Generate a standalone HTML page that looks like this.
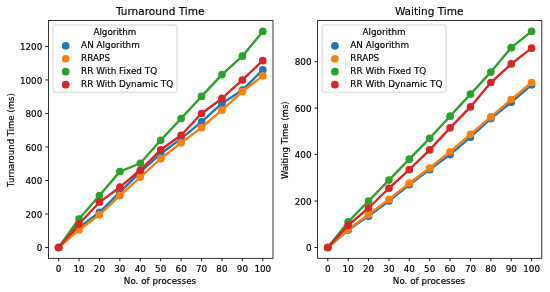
<!DOCTYPE html>
<html><head><meta charset="utf-8"><title>Turnaround and Waiting Time</title>
<style>html,body{margin:0;padding:0;background:#fff}svg{display:block}</style></head>
<body>
<svg width="550" height="292" viewBox="0 0 550 292" font-family="'DejaVu Sans', 'Liberation Sans', sans-serif" fill="#000" stroke="#000" stroke-width="0.17">
<rect width="550" height="292" fill="#fff" stroke="none"/>
<polyline points="58.61,247.50 79.03,227.39 99.45,212.32 119.86,192.22 140.28,172.11 160.70,153.69 181.12,138.61 201.54,121.86 221.95,103.43 242.37,90.03 262.79,69.93" fill="none" stroke="#1f77b4" stroke-width="2.4" stroke-linejoin="round" stroke-linecap="round"/>
<circle cx="58.61" cy="247.50" r="3.85" fill="#1f77b4" stroke="none"/>
<circle cx="79.03" cy="227.39" r="3.85" fill="#1f77b4" stroke="none"/>
<circle cx="99.45" cy="212.32" r="3.85" fill="#1f77b4" stroke="none"/>
<circle cx="119.86" cy="192.22" r="3.85" fill="#1f77b4" stroke="none"/>
<circle cx="140.28" cy="172.11" r="3.85" fill="#1f77b4" stroke="none"/>
<circle cx="160.70" cy="153.69" r="3.85" fill="#1f77b4" stroke="none"/>
<circle cx="181.12" cy="138.61" r="3.85" fill="#1f77b4" stroke="none"/>
<circle cx="201.54" cy="121.86" r="3.85" fill="#1f77b4" stroke="none"/>
<circle cx="221.95" cy="103.43" r="3.85" fill="#1f77b4" stroke="none"/>
<circle cx="242.37" cy="90.03" r="3.85" fill="#1f77b4" stroke="none"/>
<circle cx="262.79" cy="69.93" r="3.85" fill="#1f77b4" stroke="none"/>
<polyline points="58.61,247.50 79.03,229.91 99.45,214.83 119.86,195.57 140.28,177.14 160.70,158.71 181.12,142.80 201.54,127.72 221.95,110.14 242.37,91.71 262.79,75.80" fill="none" stroke="#ff7f0e" stroke-width="2.4" stroke-linejoin="round" stroke-linecap="round"/>
<circle cx="58.61" cy="247.50" r="3.85" fill="#ff7f0e" stroke="none"/>
<circle cx="79.03" cy="229.91" r="3.85" fill="#ff7f0e" stroke="none"/>
<circle cx="99.45" cy="214.83" r="3.85" fill="#ff7f0e" stroke="none"/>
<circle cx="119.86" cy="195.57" r="3.85" fill="#ff7f0e" stroke="none"/>
<circle cx="140.28" cy="177.14" r="3.85" fill="#ff7f0e" stroke="none"/>
<circle cx="160.70" cy="158.71" r="3.85" fill="#ff7f0e" stroke="none"/>
<circle cx="181.12" cy="142.80" r="3.85" fill="#ff7f0e" stroke="none"/>
<circle cx="201.54" cy="127.72" r="3.85" fill="#ff7f0e" stroke="none"/>
<circle cx="221.95" cy="110.14" r="3.85" fill="#ff7f0e" stroke="none"/>
<circle cx="242.37" cy="91.71" r="3.85" fill="#ff7f0e" stroke="none"/>
<circle cx="262.79" cy="75.80" r="3.85" fill="#ff7f0e" stroke="none"/>
<polyline points="58.61,247.50 79.03,219.02 99.45,195.57 119.86,171.61 140.28,163.24 160.70,140.29 181.12,118.51 201.54,96.40 221.95,74.62 242.37,56.20 262.79,31.40" fill="none" stroke="#2ca02c" stroke-width="2.4" stroke-linejoin="round" stroke-linecap="round"/>
<circle cx="58.61" cy="247.50" r="3.85" fill="#2ca02c" stroke="none"/>
<circle cx="79.03" cy="219.02" r="3.85" fill="#2ca02c" stroke="none"/>
<circle cx="99.45" cy="195.57" r="3.85" fill="#2ca02c" stroke="none"/>
<circle cx="119.86" cy="171.61" r="3.85" fill="#2ca02c" stroke="none"/>
<circle cx="140.28" cy="163.24" r="3.85" fill="#2ca02c" stroke="none"/>
<circle cx="160.70" cy="140.29" r="3.85" fill="#2ca02c" stroke="none"/>
<circle cx="181.12" cy="118.51" r="3.85" fill="#2ca02c" stroke="none"/>
<circle cx="201.54" cy="96.40" r="3.85" fill="#2ca02c" stroke="none"/>
<circle cx="221.95" cy="74.62" r="3.85" fill="#2ca02c" stroke="none"/>
<circle cx="242.37" cy="56.20" r="3.85" fill="#2ca02c" stroke="none"/>
<circle cx="262.79" cy="31.40" r="3.85" fill="#2ca02c" stroke="none"/>
<polyline points="58.61,247.50 79.03,224.04 99.45,202.27 119.86,187.19 140.28,170.27 160.70,149.84 181.12,135.26 201.54,113.49 221.95,98.41 242.37,79.98 262.79,60.72" fill="none" stroke="#d62728" stroke-width="2.4" stroke-linejoin="round" stroke-linecap="round"/>
<circle cx="58.61" cy="247.50" r="3.85" fill="#d62728" stroke="none"/>
<circle cx="79.03" cy="224.04" r="3.85" fill="#d62728" stroke="none"/>
<circle cx="99.45" cy="202.27" r="3.85" fill="#d62728" stroke="none"/>
<circle cx="119.86" cy="187.19" r="3.85" fill="#d62728" stroke="none"/>
<circle cx="140.28" cy="170.27" r="3.85" fill="#d62728" stroke="none"/>
<circle cx="160.70" cy="149.84" r="3.85" fill="#d62728" stroke="none"/>
<circle cx="181.12" cy="135.26" r="3.85" fill="#d62728" stroke="none"/>
<circle cx="201.54" cy="113.49" r="3.85" fill="#d62728" stroke="none"/>
<circle cx="221.95" cy="98.41" r="3.85" fill="#d62728" stroke="none"/>
<circle cx="242.37" cy="79.98" r="3.85" fill="#d62728" stroke="none"/>
<circle cx="262.79" cy="60.72" r="3.85" fill="#d62728" stroke="none"/>
<rect x="48.4" y="20.6" width="224.60" height="237.70" fill="none" stroke="#000" stroke-width="0.8"/>
<line x1="58.61" y1="258.3" x2="58.61" y2="261.40000000000003" stroke="#000" stroke-width="0.9"/>
<text transform="translate(58.61,271.80) scale(1,0.97)" font-size="8.8" text-anchor="middle">0</text>
<line x1="79.03" y1="258.3" x2="79.03" y2="261.40000000000003" stroke="#000" stroke-width="0.9"/>
<text transform="translate(79.03,271.80) scale(1,0.97)" font-size="8.8" text-anchor="middle">10</text>
<line x1="99.45" y1="258.3" x2="99.45" y2="261.40000000000003" stroke="#000" stroke-width="0.9"/>
<text transform="translate(99.45,271.80) scale(1,0.97)" font-size="8.8" text-anchor="middle">20</text>
<line x1="119.86" y1="258.3" x2="119.86" y2="261.40000000000003" stroke="#000" stroke-width="0.9"/>
<text transform="translate(119.86,271.80) scale(1,0.97)" font-size="8.8" text-anchor="middle">30</text>
<line x1="140.28" y1="258.3" x2="140.28" y2="261.40000000000003" stroke="#000" stroke-width="0.9"/>
<text transform="translate(140.28,271.80) scale(1,0.97)" font-size="8.8" text-anchor="middle">40</text>
<line x1="160.70" y1="258.3" x2="160.70" y2="261.40000000000003" stroke="#000" stroke-width="0.9"/>
<text transform="translate(160.70,271.80) scale(1,0.97)" font-size="8.8" text-anchor="middle">50</text>
<line x1="181.12" y1="258.3" x2="181.12" y2="261.40000000000003" stroke="#000" stroke-width="0.9"/>
<text transform="translate(181.12,271.80) scale(1,0.97)" font-size="8.8" text-anchor="middle">60</text>
<line x1="201.54" y1="258.3" x2="201.54" y2="261.40000000000003" stroke="#000" stroke-width="0.9"/>
<text transform="translate(201.54,271.80) scale(1,0.97)" font-size="8.8" text-anchor="middle">70</text>
<line x1="221.95" y1="258.3" x2="221.95" y2="261.40000000000003" stroke="#000" stroke-width="0.9"/>
<text transform="translate(221.95,271.80) scale(1,0.97)" font-size="8.8" text-anchor="middle">80</text>
<line x1="242.37" y1="258.3" x2="242.37" y2="261.40000000000003" stroke="#000" stroke-width="0.9"/>
<text transform="translate(242.37,271.80) scale(1,0.97)" font-size="8.8" text-anchor="middle">90</text>
<line x1="262.79" y1="258.3" x2="262.79" y2="261.40000000000003" stroke="#000" stroke-width="0.9"/>
<text transform="translate(262.79,271.80) scale(1,0.97)" font-size="8.8" text-anchor="middle">100</text>
<line x1="45.3" y1="247.50" x2="48.4" y2="247.50" stroke="#000" stroke-width="0.9"/>
<text transform="translate(42.30,251.20) scale(1,0.97)" font-size="8.8" text-anchor="end">0</text>
<line x1="45.3" y1="213.99" x2="48.4" y2="213.99" stroke="#000" stroke-width="0.9"/>
<text transform="translate(42.30,217.69) scale(1,0.97)" font-size="8.8" text-anchor="end">200</text>
<line x1="45.3" y1="180.49" x2="48.4" y2="180.49" stroke="#000" stroke-width="0.9"/>
<text transform="translate(42.30,184.19) scale(1,0.97)" font-size="8.8" text-anchor="end">400</text>
<line x1="45.3" y1="146.99" x2="48.4" y2="146.99" stroke="#000" stroke-width="0.9"/>
<text transform="translate(42.30,150.69) scale(1,0.97)" font-size="8.8" text-anchor="end">600</text>
<line x1="45.3" y1="113.49" x2="48.4" y2="113.49" stroke="#000" stroke-width="0.9"/>
<text transform="translate(42.30,117.19) scale(1,0.97)" font-size="8.8" text-anchor="end">800</text>
<line x1="45.3" y1="79.98" x2="48.4" y2="79.98" stroke="#000" stroke-width="0.9"/>
<text transform="translate(42.30,83.68) scale(1,0.97)" font-size="8.8" text-anchor="end">1000</text>
<line x1="45.3" y1="46.48" x2="48.4" y2="46.48" stroke="#000" stroke-width="0.9"/>
<text transform="translate(42.30,50.18) scale(1,0.97)" font-size="8.8" text-anchor="end">1200</text>
<text transform="translate(160.20,15.40) scale(1,0.97)" font-size="10.55" text-anchor="middle">Turnaround Time</text>
<text transform="translate(160.00,284.10) scale(1,0.97)" font-size="8.8" text-anchor="middle">No. of processes</text>
<text transform="translate(13.70,140.15) scale(1,0.97) rotate(-90)" font-size="8.8" text-anchor="middle">Turnaround Time (ms)</text>
<rect x="52.90" y="25.00" width="124.0" height="67.2" rx="1.8" fill="#fff" fill-opacity="0.8" stroke="#ccc" stroke-width="0.85"/>
<text transform="translate(114.90,34.85) scale(1,0.97)" font-size="8.8" text-anchor="middle">Algorithm</text>
<circle cx="65.70" cy="45.80" r="3.85" fill="#1f77b4" stroke="none"/>
<text transform="translate(81.10,48.10) scale(1,0.97)" font-size="8.85">AN Algorithm</text>
<circle cx="65.70" cy="58.75" r="3.85" fill="#ff7f0e" stroke="none"/>
<text transform="translate(81.10,61.05) scale(1,0.97)" font-size="8.85">RRAPS</text>
<circle cx="65.70" cy="71.70" r="3.85" fill="#2ca02c" stroke="none"/>
<text transform="translate(81.10,74.00) scale(1,0.97)" font-size="8.85">RR With Fixed TQ</text>
<circle cx="65.70" cy="84.65" r="3.85" fill="#d62728" stroke="none"/>
<text transform="translate(81.10,86.95) scale(1,0.97)" font-size="8.85">RR With Dynamic TQ</text>
<polyline points="327.79,247.50 348.17,230.07 368.55,216.13 388.94,201.02 409.32,184.76 429.70,169.66 450.08,154.55 470.46,137.13 490.85,118.54 511.23,102.27 531.61,84.85" fill="none" stroke="#1f77b4" stroke-width="2.4" stroke-linejoin="round" stroke-linecap="round"/>
<circle cx="327.79" cy="247.50" r="3.85" fill="#1f77b4" stroke="none"/>
<circle cx="348.17" cy="230.07" r="3.85" fill="#1f77b4" stroke="none"/>
<circle cx="368.55" cy="216.13" r="3.85" fill="#1f77b4" stroke="none"/>
<circle cx="388.94" cy="201.02" r="3.85" fill="#1f77b4" stroke="none"/>
<circle cx="409.32" cy="184.76" r="3.85" fill="#1f77b4" stroke="none"/>
<circle cx="429.70" cy="169.66" r="3.85" fill="#1f77b4" stroke="none"/>
<circle cx="450.08" cy="154.55" r="3.85" fill="#1f77b4" stroke="none"/>
<circle cx="470.46" cy="137.13" r="3.85" fill="#1f77b4" stroke="none"/>
<circle cx="490.85" cy="118.54" r="3.85" fill="#1f77b4" stroke="none"/>
<circle cx="511.23" cy="102.27" r="3.85" fill="#1f77b4" stroke="none"/>
<circle cx="531.61" cy="84.85" r="3.85" fill="#1f77b4" stroke="none"/>
<polyline points="327.79,247.50 348.17,229.37 368.55,214.50 388.94,199.40 409.32,183.13 429.70,168.03 450.08,151.76 470.46,134.34 490.85,116.91 511.23,99.48 531.61,82.52" fill="none" stroke="#ff7f0e" stroke-width="2.4" stroke-linejoin="round" stroke-linecap="round"/>
<circle cx="327.79" cy="247.50" r="3.85" fill="#ff7f0e" stroke="none"/>
<circle cx="348.17" cy="229.37" r="3.85" fill="#ff7f0e" stroke="none"/>
<circle cx="368.55" cy="214.50" r="3.85" fill="#ff7f0e" stroke="none"/>
<circle cx="388.94" cy="199.40" r="3.85" fill="#ff7f0e" stroke="none"/>
<circle cx="409.32" cy="183.13" r="3.85" fill="#ff7f0e" stroke="none"/>
<circle cx="429.70" cy="168.03" r="3.85" fill="#ff7f0e" stroke="none"/>
<circle cx="450.08" cy="151.76" r="3.85" fill="#ff7f0e" stroke="none"/>
<circle cx="470.46" cy="134.34" r="3.85" fill="#ff7f0e" stroke="none"/>
<circle cx="490.85" cy="116.91" r="3.85" fill="#ff7f0e" stroke="none"/>
<circle cx="511.23" cy="99.48" r="3.85" fill="#ff7f0e" stroke="none"/>
<circle cx="531.61" cy="82.52" r="3.85" fill="#ff7f0e" stroke="none"/>
<polyline points="327.79,247.50 348.17,221.94 368.55,201.02 388.94,180.11 409.32,159.20 429.70,138.29 450.08,116.21 470.46,94.14 490.85,72.07 511.23,47.67 531.61,31.40" fill="none" stroke="#2ca02c" stroke-width="2.4" stroke-linejoin="round" stroke-linecap="round"/>
<circle cx="327.79" cy="247.50" r="3.85" fill="#2ca02c" stroke="none"/>
<circle cx="348.17" cy="221.94" r="3.85" fill="#2ca02c" stroke="none"/>
<circle cx="368.55" cy="201.02" r="3.85" fill="#2ca02c" stroke="none"/>
<circle cx="388.94" cy="180.11" r="3.85" fill="#2ca02c" stroke="none"/>
<circle cx="409.32" cy="159.20" r="3.85" fill="#2ca02c" stroke="none"/>
<circle cx="429.70" cy="138.29" r="3.85" fill="#2ca02c" stroke="none"/>
<circle cx="450.08" cy="116.21" r="3.85" fill="#2ca02c" stroke="none"/>
<circle cx="470.46" cy="94.14" r="3.85" fill="#2ca02c" stroke="none"/>
<circle cx="490.85" cy="72.07" r="3.85" fill="#2ca02c" stroke="none"/>
<circle cx="511.23" cy="47.67" r="3.85" fill="#2ca02c" stroke="none"/>
<circle cx="531.61" cy="31.40" r="3.85" fill="#2ca02c" stroke="none"/>
<polyline points="327.79,247.50 348.17,225.42 368.55,207.99 388.94,188.24 409.32,169.66 429.70,149.91 450.08,127.83 470.46,106.92 490.85,82.52 511.23,63.93 531.61,48.13" fill="none" stroke="#d62728" stroke-width="2.4" stroke-linejoin="round" stroke-linecap="round"/>
<circle cx="327.79" cy="247.50" r="3.85" fill="#d62728" stroke="none"/>
<circle cx="348.17" cy="225.42" r="3.85" fill="#d62728" stroke="none"/>
<circle cx="368.55" cy="207.99" r="3.85" fill="#d62728" stroke="none"/>
<circle cx="388.94" cy="188.24" r="3.85" fill="#d62728" stroke="none"/>
<circle cx="409.32" cy="169.66" r="3.85" fill="#d62728" stroke="none"/>
<circle cx="429.70" cy="149.91" r="3.85" fill="#d62728" stroke="none"/>
<circle cx="450.08" cy="127.83" r="3.85" fill="#d62728" stroke="none"/>
<circle cx="470.46" cy="106.92" r="3.85" fill="#d62728" stroke="none"/>
<circle cx="490.85" cy="82.52" r="3.85" fill="#d62728" stroke="none"/>
<circle cx="511.23" cy="63.93" r="3.85" fill="#d62728" stroke="none"/>
<circle cx="531.61" cy="48.13" r="3.85" fill="#d62728" stroke="none"/>
<rect x="317.6" y="20.6" width="224.20" height="237.70" fill="none" stroke="#000" stroke-width="0.8"/>
<line x1="327.79" y1="258.3" x2="327.79" y2="261.40000000000003" stroke="#000" stroke-width="0.9"/>
<text transform="translate(327.79,271.80) scale(1,0.97)" font-size="8.8" text-anchor="middle">0</text>
<line x1="348.17" y1="258.3" x2="348.17" y2="261.40000000000003" stroke="#000" stroke-width="0.9"/>
<text transform="translate(348.17,271.80) scale(1,0.97)" font-size="8.8" text-anchor="middle">10</text>
<line x1="368.55" y1="258.3" x2="368.55" y2="261.40000000000003" stroke="#000" stroke-width="0.9"/>
<text transform="translate(368.55,271.80) scale(1,0.97)" font-size="8.8" text-anchor="middle">20</text>
<line x1="388.94" y1="258.3" x2="388.94" y2="261.40000000000003" stroke="#000" stroke-width="0.9"/>
<text transform="translate(388.94,271.80) scale(1,0.97)" font-size="8.8" text-anchor="middle">30</text>
<line x1="409.32" y1="258.3" x2="409.32" y2="261.40000000000003" stroke="#000" stroke-width="0.9"/>
<text transform="translate(409.32,271.80) scale(1,0.97)" font-size="8.8" text-anchor="middle">40</text>
<line x1="429.70" y1="258.3" x2="429.70" y2="261.40000000000003" stroke="#000" stroke-width="0.9"/>
<text transform="translate(429.70,271.80) scale(1,0.97)" font-size="8.8" text-anchor="middle">50</text>
<line x1="450.08" y1="258.3" x2="450.08" y2="261.40000000000003" stroke="#000" stroke-width="0.9"/>
<text transform="translate(450.08,271.80) scale(1,0.97)" font-size="8.8" text-anchor="middle">60</text>
<line x1="470.46" y1="258.3" x2="470.46" y2="261.40000000000003" stroke="#000" stroke-width="0.9"/>
<text transform="translate(470.46,271.80) scale(1,0.97)" font-size="8.8" text-anchor="middle">70</text>
<line x1="490.85" y1="258.3" x2="490.85" y2="261.40000000000003" stroke="#000" stroke-width="0.9"/>
<text transform="translate(490.85,271.80) scale(1,0.97)" font-size="8.8" text-anchor="middle">80</text>
<line x1="511.23" y1="258.3" x2="511.23" y2="261.40000000000003" stroke="#000" stroke-width="0.9"/>
<text transform="translate(511.23,271.80) scale(1,0.97)" font-size="8.8" text-anchor="middle">90</text>
<line x1="531.61" y1="258.3" x2="531.61" y2="261.40000000000003" stroke="#000" stroke-width="0.9"/>
<text transform="translate(531.61,271.80) scale(1,0.97)" font-size="8.8" text-anchor="middle">100</text>
<line x1="314.5" y1="247.50" x2="317.6" y2="247.50" stroke="#000" stroke-width="0.9"/>
<text transform="translate(311.50,251.20) scale(1,0.97)" font-size="8.8" text-anchor="end">0</text>
<line x1="314.5" y1="201.02" x2="317.6" y2="201.02" stroke="#000" stroke-width="0.9"/>
<text transform="translate(311.50,204.72) scale(1,0.97)" font-size="8.8" text-anchor="end">200</text>
<line x1="314.5" y1="154.55" x2="317.6" y2="154.55" stroke="#000" stroke-width="0.9"/>
<text transform="translate(311.50,158.25) scale(1,0.97)" font-size="8.8" text-anchor="end">400</text>
<line x1="314.5" y1="108.08" x2="317.6" y2="108.08" stroke="#000" stroke-width="0.9"/>
<text transform="translate(311.50,111.78) scale(1,0.97)" font-size="8.8" text-anchor="end">600</text>
<line x1="314.5" y1="61.61" x2="317.6" y2="61.61" stroke="#000" stroke-width="0.9"/>
<text transform="translate(311.50,65.31) scale(1,0.97)" font-size="8.8" text-anchor="end">800</text>
<text transform="translate(429.20,15.40) scale(1,0.97)" font-size="10.55" text-anchor="middle">Waiting Time</text>
<text transform="translate(429.00,284.10) scale(1,0.97)" font-size="8.8" text-anchor="middle">No. of processes</text>
<text transform="translate(287.80,140.15) scale(1,0.97) rotate(-90)" font-size="8.8" text-anchor="middle">Waiting Time (ms)</text>
<rect x="322.10" y="25.00" width="124.0" height="67.2" rx="1.8" fill="#fff" fill-opacity="0.8" stroke="#ccc" stroke-width="0.85"/>
<text transform="translate(384.10,34.85) scale(1,0.97)" font-size="8.8" text-anchor="middle">Algorithm</text>
<circle cx="334.90" cy="45.80" r="3.85" fill="#1f77b4" stroke="none"/>
<text transform="translate(350.30,48.10) scale(1,0.97)" font-size="8.85">AN Algorithm</text>
<circle cx="334.90" cy="58.75" r="3.85" fill="#ff7f0e" stroke="none"/>
<text transform="translate(350.30,61.05) scale(1,0.97)" font-size="8.85">RRAPS</text>
<circle cx="334.90" cy="71.70" r="3.85" fill="#2ca02c" stroke="none"/>
<text transform="translate(350.30,74.00) scale(1,0.97)" font-size="8.85">RR With Fixed TQ</text>
<circle cx="334.90" cy="84.65" r="3.85" fill="#d62728" stroke="none"/>
<text transform="translate(350.30,86.95) scale(1,0.97)" font-size="8.85">RR With Dynamic TQ</text>
</svg>
</body></html>
